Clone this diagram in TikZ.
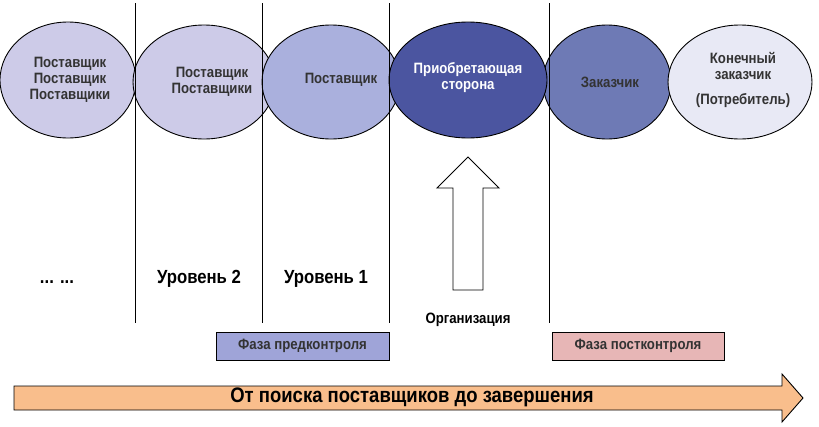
\documentclass[tikz,border=0pt]{standalone}
\usepackage{fontspec}
\setmainfont{Liberation Sans}[FakeStretch=0.88]
\usetikzlibrary{shapes.arrows}
\definecolor{ca}{HTML}{CDCBE8}
\definecolor{cb}{HTML}{AAB0DD}
\definecolor{cc}{HTML}{4B55A0}
\definecolor{cd}{HTML}{6E7AB5}
\definecolor{ce}{HTML}{E8E9F5}
\definecolor{cf}{HTML}{9FA4D8}
\definecolor{cg}{HTML}{E7B6B6}
\definecolor{ch}{HTML}{F9BE8C}
\begin{document}
\begin{tikzpicture}[x=1pt,y=-1pt,
  ell/.style={align=center,font=\fontsize{15}{16}\selectfont\bfseries,text=black!80},
  shp/.style={draw=black,line width=0.9pt},
  lbl/.style={font=\fontsize{19}{21}\selectfont\bfseries},
  phase/.style={draw=black,line width=0.9pt,font=\fontsize{15}{17}\selectfont\bfseries,text=black!80,minimum height=28pt}]
\useasboundingbox (0,0) rectangle (819,426);
\fill[ca,shp] (68,80) ellipse [x radius=68,y radius=58];
\node[ell] (e1) at (70,80) {Поставщик\\Поставщик\\Поставщики};
\fill[ca,shp] (204,82) ellipse [x radius=71,y radius=57];
\node[ell] (e2) at (212,82) {Поставщик\\Поставщики};
\fill[cb,shp] (331,82) ellipse [x radius=69,y radius=57];
\node[ell] (e3) at (341,80) {Поставщик};
\fill[cd,shp] (607,82) ellipse [x radius=64,y radius=57];
\node[ell] (e5) at (610,82) {Заказчик};
\fill[ce,shp] (740,82) ellipse [x radius=72,y radius=57];
\node[ell] (e6) at (743,80) {Конечный\\заказчик\\[9pt](Потребитель)};
\fill[cc,shp] (468,80) ellipse [x radius=79,y radius=58];
\node[ell,text=white] (e4) at (468,78) {Приобретающая\\сторона};
\foreach \x in {135,262,389,549} \draw[line width=0.6pt] (\x,3) -- (\x,323);
\draw[fill=white,shp] (468,157) -- (499,188) -- (483,188) -- (483,290) -- (453,290) -- (453,188) -- (437,188) -- cycle;
\node[lbl] (d) at (57,282) {... ...};
\node[lbl] (l2) at (199,279) {Уровень 2};
\node[lbl] (l1) at (326,279) {Уровень 1};
\node[font=\fontsize{15}{17}\selectfont\bfseries] (org) at (468,320) {Организация};
\node[phase,fill=cf,minimum width=173pt] (p1) at (302.5,346) {Фаза предконтроля};
\node[phase,fill=cg,minimum width=172pt] (p2) at (638,346) {Фаза постконтроля};
\draw[fill=ch,shp] (14,386) -- (782,386) -- (782,374) -- (803,398) -- (782,422) -- (782,410) -- (14,410) -- cycle;
\node[font=\fontsize{21}{23}\selectfont\bfseries] (t) at (412,397) {От поиска поставщиков до завершения};
\end{tikzpicture}
\end{document}
